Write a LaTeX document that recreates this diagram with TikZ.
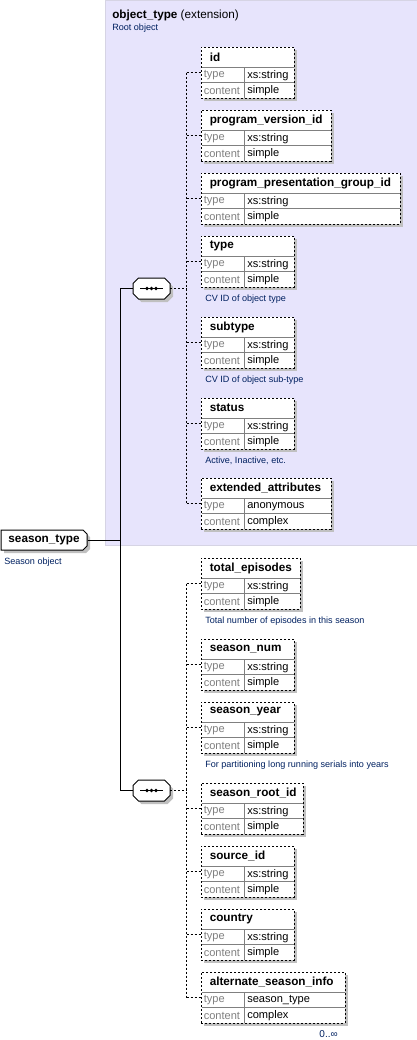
\documentclass[tikz,border=0pt]{standalone}
\usepackage{fontspec}
\setmainfont{Liberation Sans}
\usetikzlibrary{positioning}
\definecolor{lavender}{RGB}{231,228,252}
\definecolor{lavborder}{RGB}{214,212,228}
\definecolor{notecol}{RGB}{0,32,96}
\definecolor{keycol}{RGB}{128,128,128}
\definecolor{shadecol}{RGB}{192,192,192}
\tikzset{
elemframe/.style={
draw,
dash pattern=on 1.5pt off 1.5pt,
line width=0.75pt,
fill=white,
inner sep=0pt,
outer sep=0pt,
anchor=north west,
minimum height=38.25pt
},
shade/.style={
fill=shadecol,
shift={(3,3)}
},
rowline/.style={
draw=keycol,
line width=0.75pt
},
elemtitle/.style={
anchor=west,
inner sep=0pt,
font=\fontsize{8.8}{10}\selectfont\bfseries
},
keytext/.style={
anchor=west,
inner sep=0pt,
text=keycol,
font=\fontsize{8.3}{10}\selectfont
},
valtext/.style={
anchor=west,
inner sep=0pt,
font=\fontsize{8.3}{10}\selectfont
},
notetext/.style={
anchor=west,
inner sep=0pt,
text=notecol,
font=\fontsize{6.8}{8}\selectfont
},
outline/.style={
draw,
fill=white,
line width=0.75pt
},
seqbox/.style={
inner sep=0pt,
outer sep=0pt,
minimum width=27.75pt,
minimum height=15.75pt
},
typebox/.style={
inner sep=0pt,
outer sep=0pt,
minimum width=65.25pt,
minimum height=15pt,
font=\fontsize{8.8}{10}\selectfont\bfseries
},
treeline/.style={
line width=0.75pt
},
dashline/.style={
line width=0.75pt,
dash pattern=on 1.5pt off 1.5pt
}
}
% #1 name, #2 top, #3 right edge, #4 title, #5 type, #6 content
\newcommand\schemaelem[6]{%
\fill[shade](201,#2) rectangle (#3,#2+51);
\node[elemframe,minimum width={(#3-201)*0.75pt}](#1) at (201,#2){};
\draw[rowline](201.5,#2+20)--(#3-0.5,#2+20);
\draw[rowline](201.5,#2+35)--(#3-0.5,#2+35);
\draw[rowline](244,#2+20)--(244,#2+50.5);
\node[elemtitle](#1-title) at (209.5,#2+10){#4};
\node[keytext](#1-typekey) at (203.5,#2+28.5){type};
\node[valtext](#1-typeval) at (247,#2+28.5){#5};
\node[keytext](#1-contkey) at (203.5,#2+43.5){content};
\node[valtext](#1-contval) at (247,#2+43.5){#6};
}
% octagon outline: centre x, centre y, half width, half height, chamfer
\newcommand\octpath[5]{(#1-#3+#5,#2-#4)--(#1+#3-#5,#2-#4)--(#1+#3,#2-#4+#5)--(#1+#3,#2+#4-#5)--(#1+#3-#5,#2+#4)--(#1-#3+#5,#2+#4)--(#1-#3,#2+#4-#5)--(#1-#3,#2-#4+#5)--cycle}

\begin{document}
\begin{tikzpicture}[x=0.75pt,y=-0.75pt]
\useasboundingbox (0,0) rectangle (417,1040);
\fill[lavender,draw=lavborder,line width=0.75pt](105.5,0.5) rectangle (417,545);
\node[anchor=west,inner sep=0pt,font=\fontsize{8.8}{10}\selectfont](roottitle) at (112,15){\textbf{object\_type} (extension)};
\node[notetext](rootnote) at (112,28.5){Root object};

\coordinate(trunk) at (120,0);
\coordinate(busA) at (186.5,0);

% base type members
\schemaelem{id}{47}{294}{id}{xs:string}{simple}
\schemaelem{progver}{110}{331}{program\_version\_id}{xs:string}{simple}
\schemaelem{progpres}{173}{400}{program\_presentation\_group\_id}{xs:string}{simple}
\schemaelem{objtype}{236}{294}{type}{xs:string}{simple}
\node[notetext](objtypenote) at (205,299){CV ID of object type};
\schemaelem{subtype}{317}{294}{subtype}{xs:string}{simple}
\node[notetext](subtypenote) at (205,380){CV ID of object sub-type};
\schemaelem{status}{398}{294}{status}{xs:string}{simple}
\node[notetext](statusnote) at (205,461){Active, Inactive, etc.};
\schemaelem{extattr}{478}{331}{extended\_attributes}{anonymous}{complex}

% season members
\schemaelem{totalep}{558}{300}{total\_episodes}{xs:string}{simple}
\node[notetext](totalepnote) at (205,621){Total number of episodes in this season};
\schemaelem{seasonnum}{639}{294}{season\_num}{xs:string}{simple}
\schemaelem{seasonyear}{702}{294}{season\_year}{xs:string}{simple}
\node[notetext](seasonyearnote) at (205,765){For partitioning long running serials into years};
\schemaelem{seasonroot}{783}{303}{season\_root\_id}{xs:string}{simple}
\schemaelem{sourceid}{846}{294}{source\_id}{xs:string}{simple}
\schemaelem{country}{909}{294}{country}{xs:string}{simple}
\schemaelem{altseason}{972}{345}{alternate\_season\_info}{season\_type}{complex}
\node[notetext,anchor=east,font=\fontsize{7.5}{9}\selectfont](altmult) at (338,1034.5){0..∞};

% sequences
\foreach \cy in {288.5,790.5}{
\fill[shade]\octpath{151.5}{\cy}{18.5}{10.5}{5.5};
\path[outline]\octpath{151.5}{\cy}{18.5}{10.5}{5.5};
}
\node[seqbox](seqbase) at (151.5,288.5){};
\node[seqbox](seqown) at (151.5,790.5){};
\foreach \s in {seqbase,seqown}{
\draw[line width=1pt]([xshift=-8.6pt]\s.center)--([xshift=8.6pt]\s.center);
\foreach \dx in {-3.4pt,0pt,3.4pt}
\fill([xshift=\dx]\s.center) circle (1.4pt);
}

% root element
\fill[shade](1,530)--(83,530)--(87,534)--(87,546)--(83,550)--(1,550)--cycle;
\path[outline](1,530)--(83,530)--(87,534)--(87,546)--(83,550)--(1,550)--cycle;
\node[typebox](seasontype) at (44,540){season\_type};
\node[notetext](seasonnote) at (4,562){Season object};

% connectors
\draw[treeline](seasontype.east)--(seasontype.east -| trunk);
\draw[treeline](seqbase.west)--(seqbase.west -| trunk)--(seqown.west -| trunk)--(seqown.west);
\draw[dashline](seqbase.east)--(seqbase.east -| busA);
\draw[dashline](seqown.east)--(seqown.east -| busA);
\draw[dashline](id.west -| busA)--(extattr.west -| busA);
\draw[dashline](totalep.west -| busA)--(altseason.west -| busA);
\foreach \n in {id,progver,progpres,objtype,subtype,status,extattr,totalep,seasonnum,seasonyear,seasonroot,sourceid,country,altseason}
\draw[dashline](\n.west -| busA)--(\n.west);
\end{tikzpicture}
\end{document}
